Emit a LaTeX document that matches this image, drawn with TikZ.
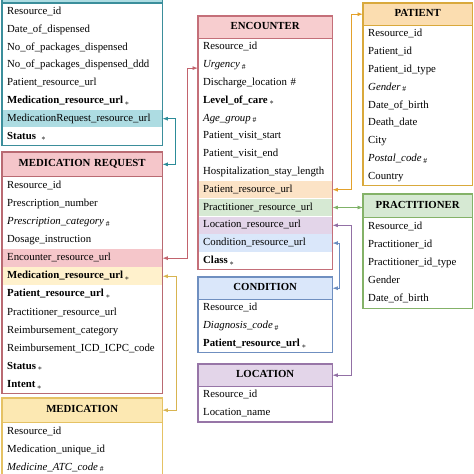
\documentclass[tikz,border=0pt]{standalone}
\usepackage{fontspec}
\setmainfont{Liberation Serif}
\usetikzlibrary{positioning,fit,arrows.meta}
\definecolor{mdline}{HTML}{3B8E9B}\definecolor{mdfill}{HTML}{ADDCE2}
\definecolor{mrline}{HTML}{B96A72}\definecolor{mrfill}{HTML}{F5C6CA}
\definecolor{medline}{HTML}{E5C264}\definecolor{medfill}{HTML}{FCE8B2}
\definecolor{medrow}{HTML}{FFF1CC}
\definecolor{enline}{HTML}{C46F79}\definecolor{enfill}{HTML}{F7CDCF}
\definecolor{ptline}{HTML}{D9A93C}\definecolor{ptfill}{HTML}{FBDDB0}
\definecolor{ptrow}{HTML}{FCE3C6}
\definecolor{prline}{HTML}{84B268}\definecolor{prfill}{HTML}{D6E9D3}
\definecolor{coline}{HTML}{6F8FC0}\definecolor{cofill}{HTML}{DAE7FA}
\definecolor{loline}{HTML}{9775A7}\definecolor{lofill}{HTML}{E3D5E9}
\newcommand{\reqmark}{\,$_{\ast}$}
\newcommand{\codemark}{\,$_{\#}$}
\hyphenpenalty=10000
\tikzset{>={Latex[length=5.5pt,width=4pt]}}

\begin{document}
\begin{tikzpicture}[x=1pt,y=1pt,
  base/.style={font=\fontsize{10.8}{13}\selectfont, inner ysep=0pt, inner xsep=5pt,
    text height=7.6pt, text depth=2.4pt},
  row/.style={base, align=left, minimum height=17.4pt},
  hdr/.style={base, font=\fontsize{10.8}{13}\selectfont\bfseries, align=center, minimum height=22pt, anchor=north west},
  wide/.style={text width=150pt},
  mid/.style={text width=124pt},
  slim/.style={text width=99pt},
  box/.style={fit=#1, inner sep=0pt, draw, line width=1.1pt},
  rule/.style={line width=1.1pt},
  link/.style={<->, line width=0.8pt}]
  \useasboundingbox (0,0) rectangle (474,-474);
  \clip (0,0) rectangle (474,-474);

  % dispense table, header above the page
  \node[hdr, wide, fill=mdfill, anchor=south west] (mdh) at (2,-3) {};
  \node[row, wide, anchor=north west] (md1) at (mdh.south west) {Resource\_id};
  \node[row, wide, below=0pt of md1] (md2) {Date\_of\_dispensed};
  \node[row, wide, below=0pt of md2] (md3) {No\_of\_packages\_dispensed};
  \node[row, wide, below=0pt of md3] (md4) {No\_of\_packages\_dispensed\_ddd};
  \node[row, wide, below=0pt of md4] (md5) {Patient\_resource\_url};
  \node[row, wide, below=0pt of md5] (md6) {\textbf{Medication\_resource\_url}\reqmark};
  \node[row, wide, below=0pt of md6, fill=mdfill] (md7) {MedicationRequest\_resource\_url};
  \node[row, wide, below=0pt of md7] (md8) {\textbf{Status}~\reqmark};
  \node[box={(mdh)(md8)}, draw=mdline] (md) {};
  \draw[mdline, rule] (mdh.south west) -- (mdh.south east);

  % medication request
  \begin{scope}[row/.append style={minimum height=17.7pt}]
  \node[hdr, wide, fill=mrfill, minimum height=24.3pt] (mrh) at (2,-152) {MEDICATION REQUEST};
  \node[row, wide, anchor=north west] (mr1) at (mrh.south west) {Resource\_id};
  \node[row, wide, below=0pt of mr1] (mr2) {Prescription\_number};
  \node[row, wide, below=0pt of mr2] (mr3) {\textit{Prescription\_category}\codemark};
  \node[row, wide, below=0pt of mr3] (mr4) {Dosage\_instruction};
  \node[row, wide, below=0pt of mr4, fill=mrfill] (mr5) {Encounter\_resource\_url};
  \node[row, wide, below=0pt of mr5, fill=medrow] (mr6) {\textbf{Medication\_resource\_url}\reqmark};
  \node[row, wide, below=0pt of mr6] (mr7) {\textbf{Patient\_resource\_url}\reqmark};
  \node[row, wide, below=0pt of mr7] (mr8) {Practitioner\_resource\_url};
  \node[row, wide, below=0pt of mr8] (mr9) {Reimbursement\_category};
  \node[row, wide, below=0pt of mr9] (mr10) {Reimbursement\_ICD\_ICPC\_code};
  \node[row, wide, below=0pt of mr10] (mr11) {\textbf{Status}\reqmark};
  \node[row, wide, below=0pt of mr11] (mr12) {\textbf{Intent}\reqmark};
  \end{scope}
  \node[box={(mrh)(mr12)}, draw=mrline] (mr) {};
  \draw[mrline, rule] (mrh.south west) -- (mrh.south east);

  % medication
  \begin{scope}[row/.append style={minimum height=17.6pt}]
  \node[hdr, wide, fill=medfill, minimum height=24pt] (medh) at (2,-398) {MEDICATION};
  \node[row, wide, anchor=north west] (med1) at (medh.south west) {Resource\_id};
  \node[row, wide, below=0pt of med1] (med2) {Medication\_unique\_id};
  \node[row, wide, below=0pt of med2] (med3) {\textit{Medicine\_ATC\_code}\codemark};
  \end{scope}
  \draw[medline, rule] (medh.north west) rectangle ([yshift=-10pt]med3.south east);
  \draw[medline, rule] (medh.south west) -- (medh.south east);

  % encounter
  \node[hdr, mid, fill=enfill] (enh) at (198,-16) {ENCOUNTER};
  \node[row, mid, anchor=north west] (en1) at (enh.south west) {Resource\_id};
  \node[row, mid, below=0pt of en1] (en2) {\textit{Urgency}\codemark};
  \node[row, mid, below=0pt of en2] (en3) {Discharge\_location \#};
  \node[row, mid, below=0pt of en3] (en4) {\textbf{Level\_of\_care}\reqmark};
  \node[row, mid, below=0pt of en4] (en5) {\textit{Age\_group}\codemark};
  \node[row, mid, below=0pt of en5] (en6) {Patient\_visit\_start};
  \node[row, mid, below=0pt of en6] (en7) {Patient\_visit\_end};
  \node[row, mid, below=0pt of en7] (en8) {Hospitalization\_stay\_length};
  \node[row, mid, below=0pt of en8, fill=ptrow] (en9) {Patient\_resource\_url};
  \node[row, mid, below=0pt of en9, fill=prfill] (en10) {Practitioner\_resource\_url};
  \node[row, mid, below=0pt of en10, fill=lofill] (en11) {Location\_resource\_url};
  \node[row, mid, below=0pt of en11, fill=cofill] (en12) {Condition\_resource\_url};
  \node[row, mid, below=0pt of en12] (en13) {\textbf{Class}\reqmark};
  \node[box={(enh)(en13)}, draw=enline] (en) {};
  \draw[enline, rule] (enh.south west) -- (enh.south east);

  % condition
  \node[hdr, mid, fill=cofill] (coh) at (198,-277) {CONDITION};
  \node[row, mid, anchor=north west] (co1) at (coh.south west) {Resource\_id};
  \node[row, mid, below=0pt of co1] (co2) {\textit{Diagnosis\_code}\codemark};
  \node[row, mid, below=0pt of co2] (co3) {\textbf{Patient\_resource\_url}\reqmark};
  \node[box={(coh)(co3)}, draw=coline] (co) {};
  \draw[coline, rule] (coh.south west) -- (coh.south east);

  % location
  \node[hdr, mid, fill=lofill] (loh) at (198,-364) {LOCATION};
  \node[row, mid, anchor=north west] (lo1) at (loh.south west) {Resource\_id};
  \node[row, mid, below=0pt of lo1] (lo2) {Location\_name};
  \node[box={(loh)(lo2)}, draw=loline] (lo) {};
  \draw[loline, rule] (loh.south west) -- (loh.south east);

  % patient
  \node[hdr, slim, fill=ptfill] (pth) at (363,-3) {PATIENT};
  \node[row, slim, anchor=north west] (pt1) at (pth.south west) {Resource\_id};
  \node[row, slim, below=0pt of pt1] (pt2) {Patient\_id};
  \node[row, slim, below=0pt of pt2] (pt3) {Patient\_id\_type};
  \node[row, slim, below=0pt of pt3] (pt4) {\textit{Gender}\codemark};
  \node[row, slim, below=0pt of pt4] (pt5) {Date\_of\_birth};
  \node[row, slim, below=0pt of pt5] (pt6) {Death\_date};
  \node[row, slim, below=0pt of pt6] (pt7) {City};
  \node[row, slim, below=0pt of pt7] (pt8) {\textit{Postal\_code}\codemark};
  \node[row, slim, below=0pt of pt8] (pt9) {Country};
  \node[box={(pth)(pt9)}, draw=ptline] (pt) {};
  \draw[ptline, rule] (pth.south west) -- (pth.south east);

  % practitioner
  \begin{scope}[row/.append style={minimum height=17.8pt}]
  \node[hdr, slim, fill=prfill, minimum height=23pt] (prh) at (363,-194) {PRACTITIONER};
  \node[row, slim, anchor=north west] (pr1) at (prh.south west) {Resource\_id};
  \node[row, slim, below=0pt of pr1] (pr2) {Practitioner\_id};
  \node[row, slim, below=0pt of pr2] (pr3) {Practitioner\_id\_type};
  \node[row, slim, below=0pt of pr3] (pr4) {Gender};
  \node[row, slim, below=0pt of pr4] (pr5) {Date\_of\_birth};
  \end{scope}
  \node[box={(prh)(pr5)}, draw=prline] (pr) {};
  \draw[prline, rule] (prh.south west) -- (prh.south east);

  % links
  \draw[link, color={rgb,255:red,44;green,140;blue,152}] (mrh.east) -- ++(13,0) |- (md7.east);
  \draw[link, color={rgb,255:red,194;green,99;blue,109}] (mr5.east) -- ++(25,0) |- ([yshift=-3pt]en2.west);
  \draw[link, color={rgb,255:red,216;green,180;blue,80}] (medh.east) -- ++(14,0) |- (mr6.east);
  \draw[link, color={rgb,255:red,227;green,161;blue,43}] (en9.east) -- ++(19,0) |- (pth.west);
  \draw[link, color={rgb,255:red,127;green,178;blue,103}] (en10.east) -- (en10.east -| prh.west);
  \draw[link, color={rgb,255:red,146;green,112;blue,165}] (en11.east) -- ++(19,0) |- (loh.east);
  \draw[link, color={rgb,255:red,106;green,140;blue,192}] (en12.east) -- ++(7,0) |- (coh.east);
\end{tikzpicture}
\end{document}
